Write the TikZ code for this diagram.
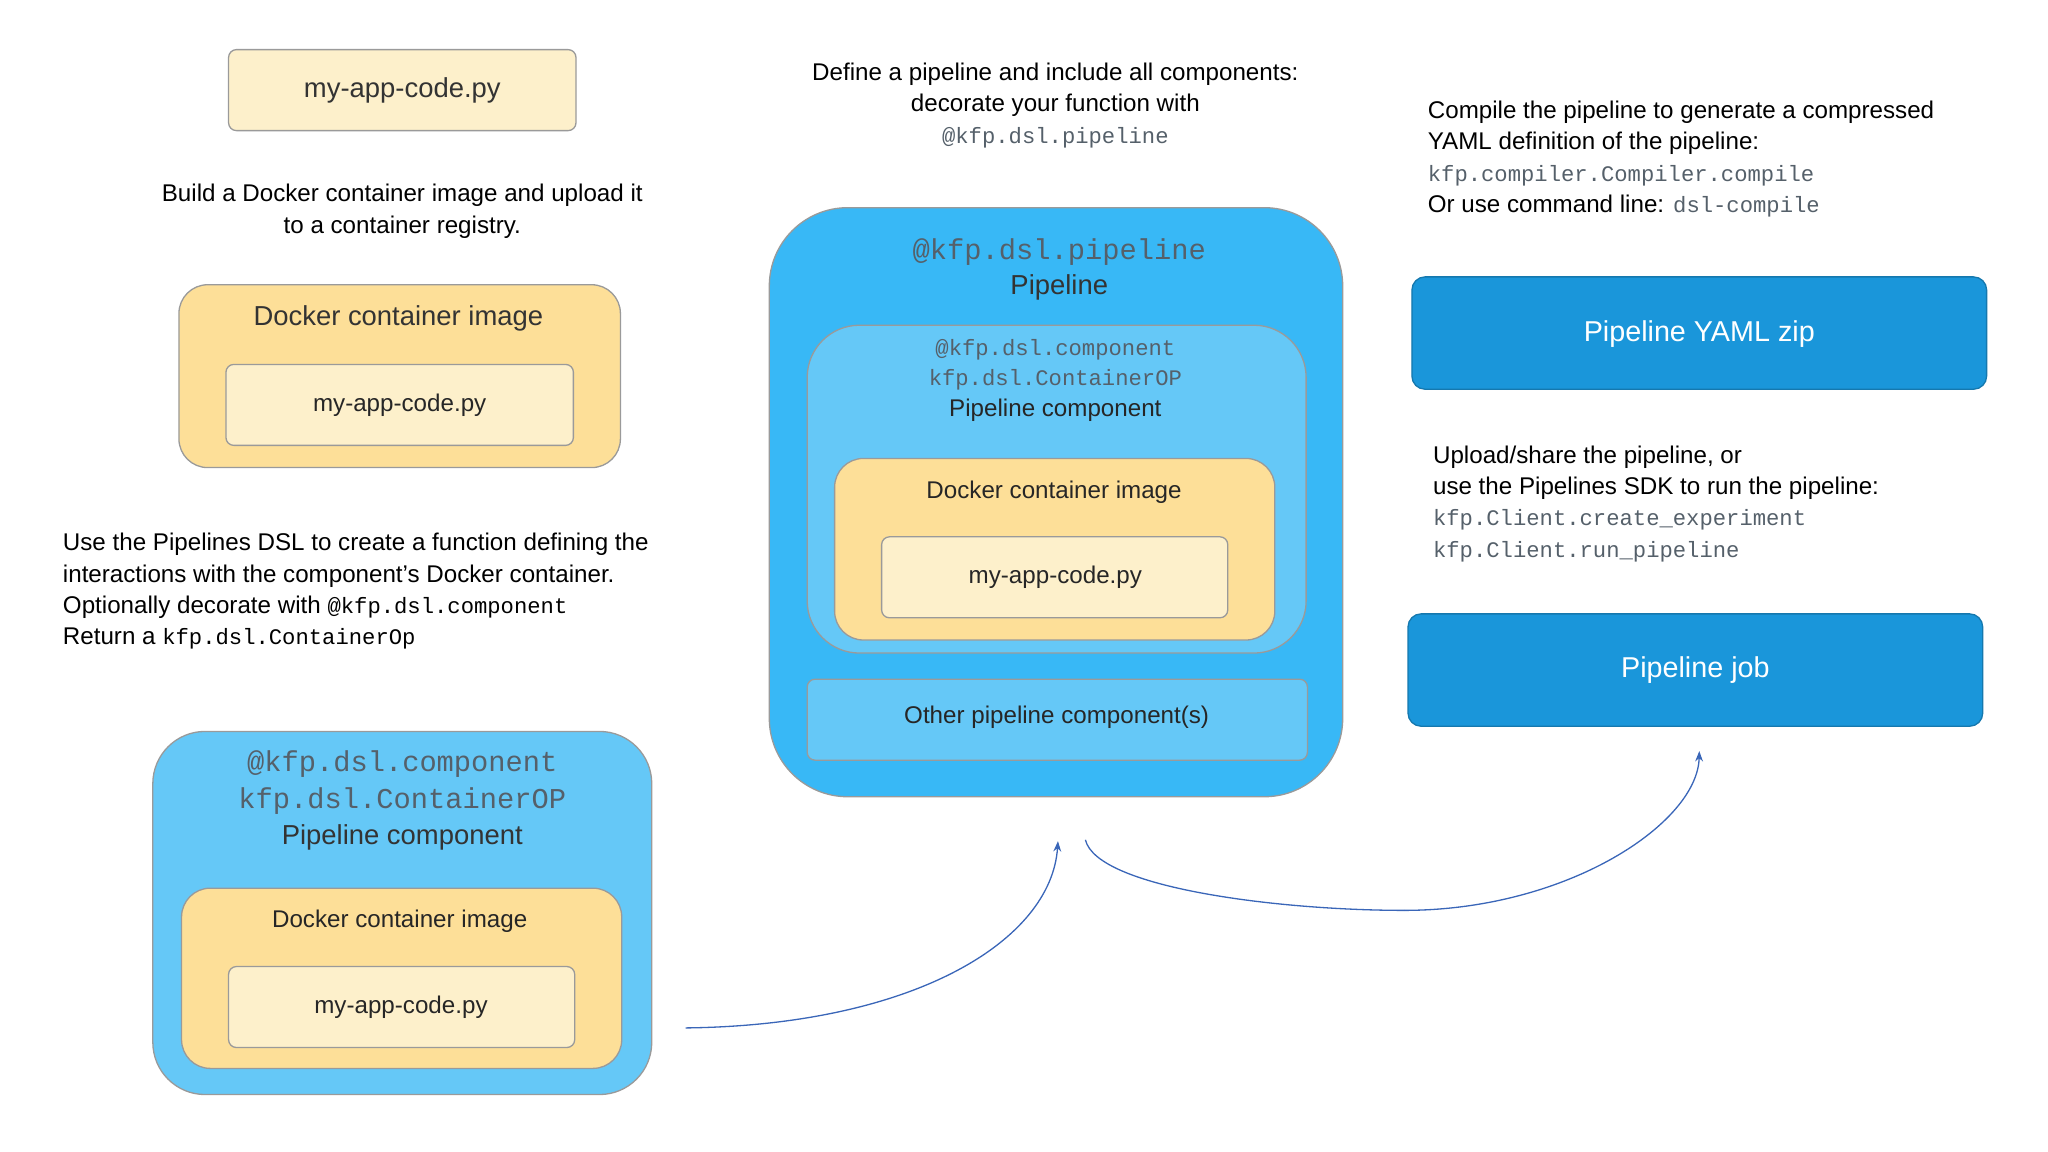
\documentclass[tikz,border=0pt]{standalone}
\usepackage{fontspec}
\setmainfont{Liberation Sans}
\setmonofont{Liberation Mono}
\usetikzlibrary{arrows.meta}
\definecolor{cream}{HTML}{FDF0CB}
\definecolor{orng}{HTML}{FDDF98}
\definecolor{lblue}{HTML}{65C8F7}
\definecolor{mblue}{HTML}{38B8F6}
\definecolor{dblue}{HTML}{1A96DA}
\definecolor{bord}{HTML}{9A9A9A}
\definecolor{mono}{HTML}{55606A}
\definecolor{arr}{HTML}{3A66B8}
\begin{document}
\begin{tikzpicture}[x=1pt,y=-1pt,
 box/.style={draw=bord,line width=1pt,rounded corners=#1},
 t22/.style={font=\fontsize{21}{25}\selectfont,text=black!80},
 t19/.style={font=\fontsize{18.5}{24}\selectfont,text=black!85},
 m22/.style={font=\ttfamily\fontsize{22}{28}\selectfont,text=mono,align=center},
 m17/.style={font=\ttfamily\fontsize{17}{23}\selectfont,text=mono,align=center},
 para/.style={font=\fontsize{18.5}{24}\selectfont,align=left,anchor=north west,inner sep=0},
 cpara/.style={font=\fontsize{18.5}{24}\selectfont,align=center,anchor=north,inner sep=0},
 conn/.style={draw=arr,line width=1pt,-{Stealth[length=8pt,width=6pt]}}]
\useasboundingbox (0,0) rectangle (1568,882);
% top-left
\draw[box=6pt,fill=cream] (175,38) rectangle (441,100);
\node[t22] (code1) at (308,69) {my-app-code.py};
\node[cpara] (t1) at (308,141) {Build a Docker container image and upload it\\to a container registry.};
\draw[box=22pt,fill=orng] (137,218) rectangle (475,358);
\node[t22] (d1) at (305,244) {Docker container image};
\draw[box=6pt,fill=cream] (173,279) rectangle (439,341);
\node[t19] (code2) at (306,310) {my-app-code.py};
\node[para] (t2) at (48,408) {Use the Pipelines DSL to create a function defining the\\interactions with the component’s Docker container.\\Optionally decorate with {\ttfamily\fontsize{17}{24}\selectfont @kfp.dsl.component}\\Return a {\ttfamily\fontsize{17}{24}\selectfont kfp.dsl.ContainerOp}};
% bottom-left component
\draw[box=40pt,fill=lblue] (117,560) rectangle (499,838);
\node[m22] (m1) at (308,599) {@kfp.dsl.component\\kfp.dsl.ContainerOP};
\node[t22] (pc1) at (308,641) {Pipeline component};
\draw[box=22pt,fill=orng] (139,680) rectangle (476,818);
\node[t19] (d2) at (306,705) {Docker container image};
\draw[box=6pt,fill=cream] (175,740) rectangle (440,802);
\node[t19] (code3) at (307,771) {my-app-code.py};
% center
\node[cpara] (t3) at (808,48) {Define a pipeline and include all components:\\decorate your function with\\{\ttfamily\fontsize{17}{24}\selectfont\color{mono}@kfp.dsl.pipeline}};
\draw[box=60pt,fill=mblue] (589,159) rectangle (1028,610);
\node[m22] (m2) at (811,193) {@kfp.dsl.pipeline};
\node[t22] (pl) at (811,220) {Pipeline};
\draw[box=40pt,fill=lblue] (618,249) rectangle (1000,500);
\node[m17] (m3) at (808,279) {@kfp.dsl.component\\kfp.dsl.ContainerOP};
\node[t19] (pc2) at (808,314) {Pipeline component};
\draw[box=22pt,fill=orng] (639,351) rectangle (976,490);
\node[t19] (d3) at (807,377) {Docker container image};
\draw[box=6pt,fill=cream] (675,411) rectangle (940,473);
\node[t19] (code4) at (808,442) {my-app-code.py};
\draw[box=6pt,fill=lblue] (618,520) rectangle (1001,582);
\node[t19] (oth) at (809,549) {Other pipeline component(s)};
% right
\node[para] (t4) at (1093,77) {Compile the pipeline to generate a compressed\\YAML definition of the pipeline:\\{\ttfamily\fontsize{17}{24}\selectfont\color{mono}kfp.compiler.Compiler.compile}\\Or use command line: {\ttfamily\fontsize{17}{24}\selectfont\color{mono}dsl-compile}};
\draw[box=10pt,fill=dblue,draw=dblue!80!black] (1081,212) rectangle (1521,298);
\node[font=\fontsize{22}{26}\selectfont,text=white] (yaml) at (1301,256) {Pipeline YAML zip};
\node[para] (t5) at (1097,341) {Upload/share the pipeline, or\\use the Pipelines SDK to run the pipeline:\\{\ttfamily\fontsize{17}{24}\selectfont\color{mono}kfp.Client.create\_experiment}\\{\ttfamily\fontsize{17}{24}\selectfont\color{mono}kfp.Client.run\_pipeline}};
\draw[box=10pt,fill=dblue,draw=dblue!80!black] (1078,470) rectangle (1518,556);
\node[font=\fontsize{22}{26}\selectfont,text=white] (job) at (1298,513) {Pipeline job};
% arrows
\coordinate (a1s) at (525,787);
\coordinate (a1e) at (810,644);
\coordinate (a2s) at (831,643);
\coordinate (a2m) at (1075,697);
\coordinate (a2e) at (1301,575);
\draw[conn] (a1s) .. controls (700,785) and (805,720) .. (a1e);
\draw[draw=arr,line width=1pt] (a2s) .. controls (840,680) and (980,697) .. (a2m);
\draw[conn] (a2m) .. controls (1200,697) and (1300,630) .. (a2e);
\end{tikzpicture}
\end{document}
